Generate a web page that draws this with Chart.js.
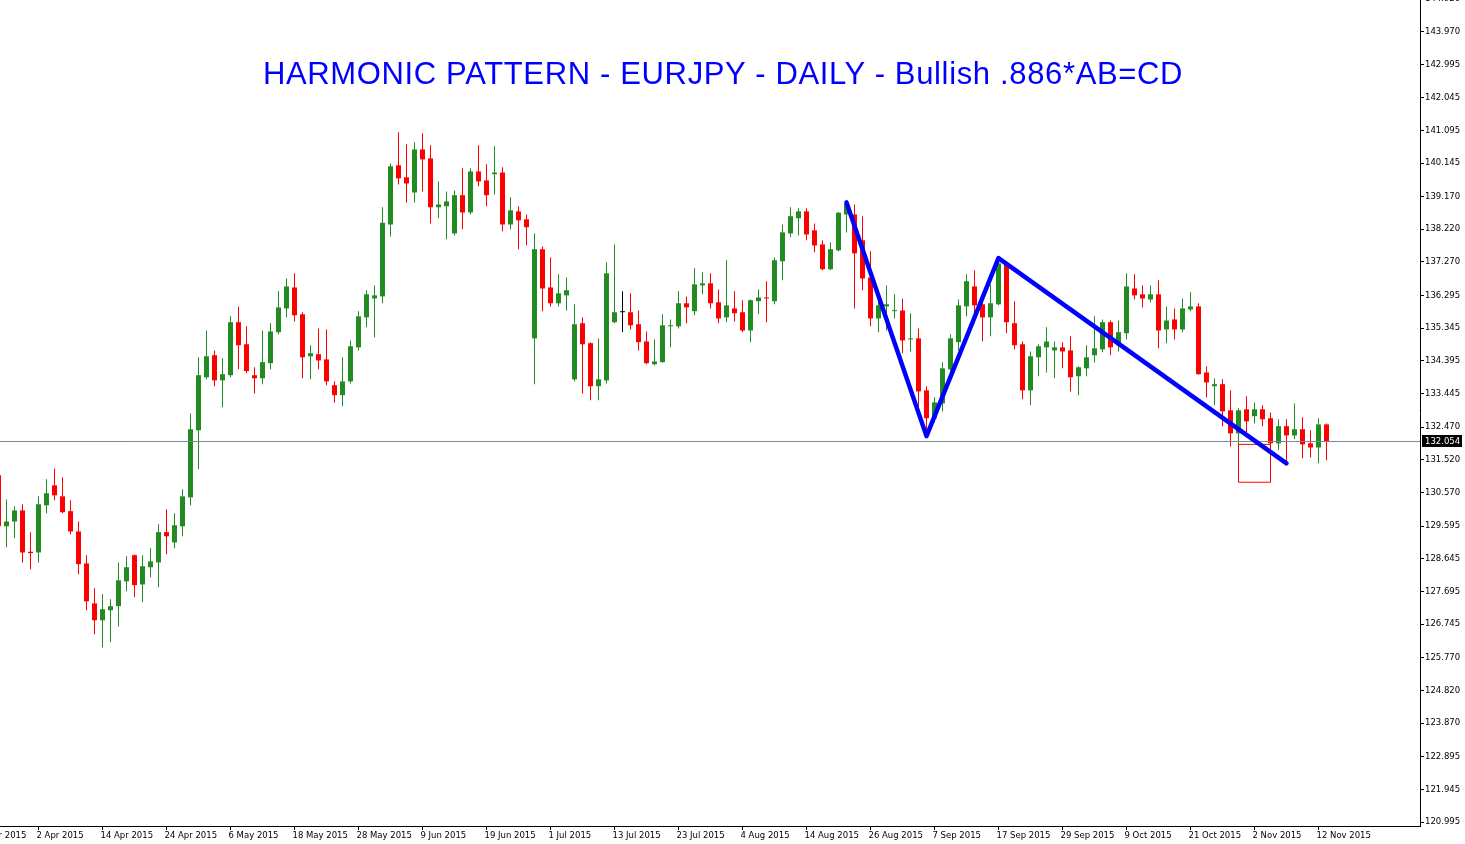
<!DOCTYPE html>
<html lang="en">
  <head>
    <meta charset="UTF-8" />
    <title>EURJPY Daily - Harmonic Pattern</title>
    <script src="https://cdn.jsdelivr.net/npm/chart.js"></script>
    <style>
      html,
      body {
        margin: 0;
        padding: 0;
        background: #fff;
      }
      .wrap {
        position: relative;
        width: 1465px;
        height: 844px;
      }
      #title {
        position: absolute;
        left: 0;
        top: 58px;
        width: 1446px;
        text-align: center;
        font-family: "Liberation Sans", Arial, sans-serif;
        font-size: 31px;
        line-height: 31px;
        letter-spacing: 0.65px;
        color: #0000ff;
        white-space: nowrap;
        pointer-events: none;
      }
    </style>
  </head>
  <body>
    <div class="wrap">
      <canvas id="chart" width="1465" height="844"></canvas>
      <div id="title">HARMONIC PATTERN - EURJPY - DAILY - Bullish .886*AB=CD</div>
    </div>

    <script>
      // daily candles, 26 Mar 2015 .. 13 Nov 2015
      const opens = [
        131.07, 129.59, 129.73, 130.05, 128.85, 128.83, 130.2, 130.78, 130.46, 130.03,
        129.44, 128.51, 127.35, 126.86, 127.15, 127.27, 127.99, 128.75, 127.9, 128.4,
        128.54, 129.42, 129.12, 129.59, 130.43, 132.38, 133.92, 134.56, 133.83, 133.98,
        135.52, 134.88, 133.98, 133.89, 134.33, 135.23, 135.92, 136.53, 135.75, 134.53,
        134.59, 134.44, 133.69, 133.4, 133.8, 134.79, 135.66, 136.21, 136.27, 138.36,
        140.08, 139.73, 139.29, 140.54, 140.28, 138.86, 138.89, 138.1, 139.21, 138.71,
        139.9, 139.64, 139.82, 139.87, 138.36, 138.74, 138.51, 135.05, 137.64, 136.53,
        136.07, 136.3, 133.86, 135.49, 134.91, 133.66, 133.83, 135.52, 135.81, 135.81,
        135.46, 134.96, 134.3, 134.36, 135.4, 135.4, 136.07, 135.84, 136.59, 136.65,
        136.1, 135.66, 135.92, 135.81, 135.28, 136.13, 136.24, 136.13, 137.29, 138.1,
        138.54, 138.74, 138.19, 137.78, 137.06, 137.61, 138.65, 138.65, 137.9, 136.82,
        135.63, 135.98, 135.84, 135.86, 135.02, 135.05, 133.54, 132.73, 133.16, 134.15,
        134.94, 135.98, 136.56, 136.04, 135.66, 136.04, 137.23, 135.49, 134.88, 133.54,
        134.5, 134.79, 134.7, 134.79, 134.7, 133.95, 134.18, 134.56, 134.73, 135.52,
        134.85, 135.2, 136.5, 136.33, 136.18, 136.33, 135.31, 135.6, 135.31, 135.89,
        135.98, 134.06, 133.66, 133.72, 132.96, 132.29, 132.99, 132.79, 132.99, 132.73,
        132.0, 132.5, 132.23, 132.41, 132.0, 131.88, 132.55,
      ];
      const highs = [
        131.22, 130.37, 130.17, 130.23, 129.42, 130.46, 130.96, 131.27, 131.01, 130.35,
        129.73, 128.75, 127.79, 127.62, 127.47, 128.54, 128.72, 128.77, 128.75, 128.95,
        129.65, 130.08, 129.97, 130.67, 132.87, 134.5, 135.28, 134.7, 134.47, 135.69,
        135.98, 135.4, 134.21, 135.28, 135.49, 136.42, 136.79, 136.94, 135.81, 134.85,
        135.34, 135.31, 133.8, 134.5, 134.99, 135.84, 136.45, 136.59, 138.86, 140.13,
        141.04, 140.69, 140.75, 141.01, 140.66, 139.61, 139.32, 139.35, 139.99, 139.99,
        140.66, 140.11, 140.63, 140.02, 139.15, 138.89, 138.65, 138.1, 137.72, 137.4,
        136.91, 136.82, 136.04, 135.66, 134.94, 135.05, 137.26, 137.78, 136.42, 136.36,
        135.86, 135.25, 135.02, 135.75, 135.6, 136.42, 136.27, 137.09, 136.97, 136.94,
        136.47, 137.32, 136.42, 136.16, 136.18, 136.47, 136.71, 137.4, 138.36, 138.86,
        138.83, 138.83, 138.39, 137.9, 137.84, 138.72, 139.03, 138.94, 138.6, 137.58,
        136.24, 136.59, 136.33, 136.21, 135.78, 135.34, 133.66, 133.34, 134.36, 135.17,
        136.18, 136.91, 137.03, 136.16, 136.62, 137.38, 137.26, 136.13, 134.96, 134.67,
        134.88, 135.37, 134.96, 134.94, 135.11, 134.24, 134.85, 135.69, 135.6, 135.57,
        135.57, 136.94, 136.91, 136.59, 136.59, 136.74, 135.98, 135.92, 136.21, 136.39,
        136.07, 134.24, 133.89, 133.86, 133.54, 133.02, 133.37, 133.19, 133.11, 132.9,
        132.7, 132.7, 133.16, 132.76, 132.38, 132.73, 132.58,
      ];
      const lows = [
        129.47, 128.98, 129.24, 128.54, 128.34, 128.54, 129.97, 130.35, 129.97, 129.36,
        128.2, 127.15, 126.45, 126.07, 126.22, 126.68, 127.7, 127.53, 127.38, 128.11,
        127.82, 128.78, 128.95, 129.3, 130.2, 131.25, 133.86, 133.66, 133.05, 133.92,
        134.15, 134.04, 133.45, 133.72, 134.15, 135.17, 135.66, 135.54, 133.89, 133.86,
        134.15, 133.69, 133.19, 133.08, 133.74, 134.7, 135.37, 135.08, 136.07, 138.01,
        139.52, 139.0, 139.0, 139.32, 138.39, 138.54, 137.93, 138.04, 138.22, 138.65,
        139.47, 138.89, 139.23, 138.16, 138.22, 137.64, 137.75, 133.72, 135.84, 135.98,
        135.98, 135.86, 133.8, 133.45, 133.25, 133.25, 133.74, 135.49, 135.23, 135.31,
        134.7, 134.3, 134.27, 134.35, 134.79, 135.34, 135.49, 135.72, 136.33, 135.92,
        135.49, 135.52, 135.54, 135.23, 134.94, 135.75, 135.52, 136.04, 136.74, 137.99,
        138.04, 137.9, 137.55, 137.03, 137.03, 137.58, 138.13, 135.92, 136.45, 135.4,
        135.23, 135.28, 135.63, 134.62, 134.67, 133.08, 132.25, 132.61, 132.93, 134.06,
        134.7, 135.69, 135.49, 134.96, 135.11, 136.01, 135.2, 134.73, 133.28, 133.11,
        133.95, 134.06, 133.89, 134.18, 133.51, 133.4, 133.95, 134.35, 134.65, 134.56,
        134.67, 135.02, 136.18, 135.95, 136.1, 134.76, 134.91, 135.02, 135.23, 135.84,
        133.99, 133.34, 133.11, 132.5, 131.91, 131.91, 132.32, 132.58, 132.5, 131.59,
        131.8, 131.45, 132.12, 131.57, 131.59, 131.42, 131.51,
      ];
      const closes = [
        129.59, 129.73, 130.05, 128.83, 128.81, 130.23, 130.55, 130.49, 130.0, 129.44,
        128.49, 127.41, 126.86, 127.18, 127.27, 128.02, 128.4, 127.88, 128.43, 128.57,
        129.42, 129.3, 129.62, 130.46, 132.41, 133.98, 134.53, 133.83, 134.01, 135.52,
        134.85, 134.1, 133.89, 134.36, 135.25, 135.95, 136.56, 135.72, 134.5, 134.62,
        134.41, 133.8, 133.4, 133.8, 134.82, 135.69, 136.33, 136.3, 138.41, 140.05,
        139.7, 139.55, 140.54, 140.25, 138.86, 138.94, 139.03, 139.21, 138.71, 139.9,
        139.61, 139.21, 139.87, 138.36, 138.77, 138.48, 138.28, 137.64, 136.5, 136.07,
        136.36, 136.45, 135.46, 134.88, 133.66, 133.86, 136.94, 135.81, 135.81, 135.43,
        134.94, 134.33, 134.38, 135.43, 135.43, 136.07, 135.95, 136.62, 136.65, 136.07,
        135.63, 136.01, 135.78, 135.28, 136.16, 136.24, 136.21, 137.32, 138.13, 138.6,
        138.74, 138.07, 137.75, 137.06, 137.64, 138.7, 138.97, 137.52, 136.79, 135.63,
        136.01, 136.04, 135.86, 134.99, 135.05, 133.51, 132.73, 133.19, 134.18, 135.05,
        136.01, 136.71, 136.01, 135.66, 136.07, 137.23, 135.52, 134.85, 133.54, 134.53,
        134.82, 134.96, 134.79, 134.67, 133.92, 134.21, 134.5, 134.76, 135.52, 134.79,
        135.23, 136.56, 136.3, 136.21, 136.33, 135.28, 135.57, 135.31, 135.92, 135.98,
        134.01, 133.77, 133.72, 132.93, 132.29, 132.96, 132.64, 132.99, 132.7, 132.0,
        132.5, 132.23, 132.41, 131.97, 131.88, 132.55, 132.054,
      ];

      const tickLabels = [
        "23 Mar 2015", "2 Apr 2015", "14 Apr 2015", "24 Apr 2015", "6 May 2015",
        "18 May 2015", "28 May 2015", "9 Jun 2015", "19 Jun 2015", "1 Jul 2015",
        "13 Jul 2015", "23 Jul 2015", "4 Aug 2015", "14 Aug 2015", "26 Aug 2015",
        "7 Sep 2015", "17 Sep 2015", "29 Sep 2015", "9 Oct 2015", "21 Oct 2015",
        "2 Nov 2015", "12 Nov 2015",
      ];
      const priceTicks = [
        144.92, 143.97, 142.995, 142.045, 141.095, 140.145, 139.17, 138.22, 137.27,
        136.295, 135.345, 134.395, 133.445, 132.47, 131.52, 130.57, 129.595, 128.645,
        127.695, 126.745, 125.77, 124.82, 123.87, 122.895, 121.945, 120.995,
      ];
      const lastPrice = 132.054;

      // A, B, C, D legs (bar number, price)
      const patternBars = [106, 116, 125, 161];
      const patternPrices = [139.0, 132.21, 137.38, 131.42];
      // potential reversal zone box
      const boxBars = [155, 159];
      const boxPrices = [131.97, 130.87];

      // weekday calendar starting 23 Mar 2015, first candle is the 4th day
      const months = ["Jan", "Feb", "Mar", "Apr", "May", "Jun", "Jul", "Aug", "Sep", "Oct", "Nov", "Dec"];
      const lead = 3;
      let days = [];
      let d = new Date(Date.UTC(2015, 2, 23));
      while (days.length < opens.length + lead) {
        let wd = d.getUTCDay();
        if (wd !== 0 && wd !== 6) {
          days.push(d.getUTCDate() + " " + months[d.getUTCMonth()] + " " + d.getUTCFullYear());
        }
        d.setUTCDate(d.getUTCDate() + 1);
      }
      const tickSlots = tickLabels.map((t) => days.indexOf(t));

      const xMin = lead + 0.1875;
      const xMax = xMin + 177.5;

      let colors = opens.map((o, i) =>
        closes[i] > o ? "#228b22" : closes[i] < o ? "#ff0000" : "#000000"
      );

      const axisFont = { family: "'DejaVu Sans', sans-serif", size: 8.5 };

      const priceTag = {
        id: "priceTag",
        afterDraw(chart) {
          let ctx = chart.ctx;
          let y = chart.scales.y.getPixelForValue(lastPrice);
          let x = chart.chartArea.right;
          ctx.save();
          ctx.fillStyle = "#000000";
          ctx.fillRect(x + 2, Math.round(y) - 6, 40, 12);
          ctx.fillStyle = "#ffffff";
          ctx.font = "8.5px 'DejaVu Sans', sans-serif";
          ctx.textBaseline = "middle";
          ctx.fillText(lastPrice.toFixed(3), x + 5, y);
          ctx.restore();
        },
      };

      let ctx = document.getElementById("chart").getContext("2d");

      let chart = new Chart(ctx, {
        type: "bar",
        data: {
          datasets: [
            {
              type: "line",
              label: "AB=CD",
              data: patternBars.map((b, k) => ({ x: b + lead, y: patternPrices[k] })),
              borderColor: "#0000ff",
              borderWidth: 4.5,
              borderJoinStyle: "round",
              borderCapStyle: "round",
              pointRadius: 0,
              tension: 0,
              order: 0,
            },
            {
              type: "line",
              label: "PRZ",
              data: [
                { x: boxBars[0] + lead, y: boxPrices[0] },
                { x: boxBars[1] + lead, y: boxPrices[0] },
                { x: boxBars[1] + lead, y: boxPrices[1] },
                { x: boxBars[0] + lead, y: boxPrices[1] },
                { x: boxBars[0] + lead, y: boxPrices[0] },
              ],
              borderColor: "#ff0000",
              borderWidth: 1,
              pointRadius: 0,
              tension: 0,
              order: 1,
            },
            {
              type: "line",
              label: "Bid",
              data: [
                { x: xMin, y: lastPrice },
                { x: xMax, y: lastPrice },
              ],
              borderColor: "#778899",
              borderWidth: 1,
              pointRadius: 0,
              order: 2,
            },
            {
              label: "Body",
              data: opens.map((o, i) => ({ x: i + lead, y: [o, closes[i]] })),
              backgroundColor: colors,
              barThickness: 5,
              minBarLength: 1,
              grouped: false,
              inflateAmount: 0,
              order: 3,
            },
            {
              label: "Wick",
              data: lows.map((l, i) => ({ x: i + lead, y: [l, highs[i]] })),
              backgroundColor: colors,
              barThickness: 1,
              grouped: false,
              inflateAmount: 0,
              order: 4,
            },
          ],
        },
        options: {
          responsive: false,
          animation: false,
          events: [],
          layout: { padding: 0, autoPadding: false },
          plugins: {
            legend: { display: false },
            tooltip: { enabled: false },
          },
          scales: {
            x: {
              type: "linear",
              min: xMin,
              max: xMax,
              offset: false,
              afterBuildTicks: (s) => {
                s.ticks = tickSlots.map((v) => ({ value: v }));
              },
              afterFit: (s) => {
                s.height = 18;
                s.paddingLeft = 0;
                s.paddingRight = 0;
              },
              ticks: {
                autoSkip: false,
                maxRotation: 0,
                minRotation: 0,
                align: "start",
                labelOffset: -2,
                padding: 1,
                color: "#000000",
                font: axisFont,
                callback: (v) => days[v],
              },
              grid: {
                offset: false,
                drawOnChartArea: false,
                drawTicks: true,
                tickLength: 4,
                color: "#000000",
              },
              border: { display: true, color: "#000000" },
            },
            y: {
              position: "right",
              min: 120.882,
              max: 144.882,
              afterBuildTicks: (s) => {
                s.ticks = priceTicks.map((v) => ({ value: v }));
              },
              afterFit: (s) => {
                s.width = 45;
                s.paddingTop = 0;
                s.paddingBottom = 0;
              },
              ticks: {
                autoSkip: false,
                padding: 1,
                color: "#000000",
                font: axisFont,
                callback: (v) => v.toFixed(3),
              },
              grid: {
                drawOnChartArea: false,
                drawTicks: true,
                tickLength: 4,
                color: "#000000",
              },
              border: { display: true, color: "#000000" },
            },
          },
        },
        plugins: [priceTag],
      });
    </script>
  </body>
</html>
